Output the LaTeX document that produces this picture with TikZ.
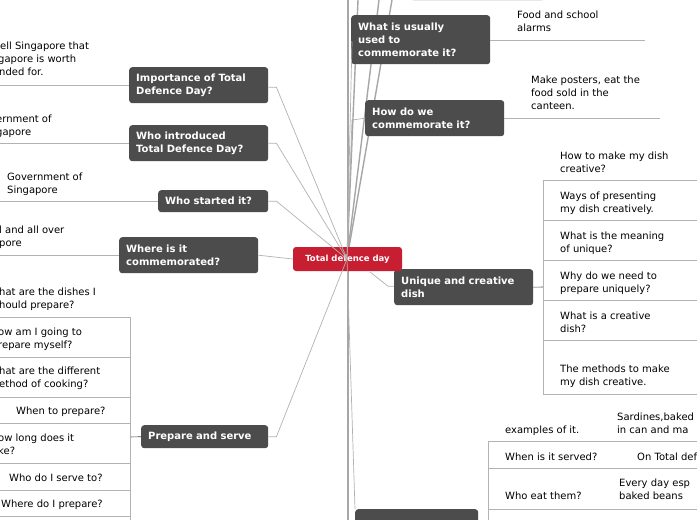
\documentclass[tikz,border=0pt]{standalone}
\usepackage{fontspec}
\setmainfont{DejaVu Sans}
\begin{document}
\begin{tikzpicture}[x=1pt,y=-1pt,
  topic/.style={fill=black!70,text=white,font=\bfseries\fontsize{10}{13}\selectfont,rounded corners=3pt,anchor=north west,inner xsep=7pt,inner ysep=0pt,align=left},
  leaf/.style={font=\fontsize{10}{13}\selectfont,anchor=north west,inner sep=0pt,align=left},
  conn/.style={draw=black!30,line width=0.7pt},
  thick conn/.style={draw=black!35,line width=1.4pt},
  uline/.style={draw=black!30,line width=0.6pt}]
\useasboundingbox (0,0) rectangle (697,520);
\clip (0,0) rectangle (697,520);
\fill[white] (0,0) rectangle (697,520);
\coordinate (c) at (347,259);
% main spine lines
\draw[thick conn] (348,0) -- (348,520);
\draw[thick conn] (c) -- (358,0);
\draw[thick conn] (c) -- (379,0);
\draw[thick conn] (c) -- (392,0);
% top cut box
\fill[black!70,rounded corners=3pt] (410,-20) rectangle (545,0);
% left topics
\node[topic,minimum width=139pt,minimum height=36pt,text width=125pt] (imp) at (129,67) {Importance of Total\\Defence Day?};
\node[topic,minimum width=139pt,minimum height=36pt,text width=125pt] (intro) at (129,125) {Who introduced\\Total Defence Day?};
\node[topic,minimum width=110pt,minimum height=22pt,text width=96pt] (start) at (158,190) {Who started it?};
\node[topic,minimum width=139pt,minimum height=36pt,text width=125pt] (where) at (119,237) {Where is it\\commemorated?};
\node[topic,minimum width=127pt,minimum height=23pt,text width=113pt] (prep) at (141,425) {Prepare and serve};
% right topics
\node[topic,minimum width=139pt,minimum height=49pt,text width=125pt] (used) at (351,15) {What is usually\\used to\\commemorate it?};
\node[topic,minimum width=139pt,minimum height=36pt,text width=125pt] (how) at (365,100) {How do we\\commemorate it?};
\node[topic,minimum width=139pt,minimum height=36pt,text width=125pt] (uniq) at (394,269) {Unique and creative\\dish};
\node[topic,minimum width=123pt,minimum height=24pt,text width=109pt] (food) at (355,509) {};
% centre
\node[fill={rgb,255:red,200;green,30;blue,50},text=white,font=\bfseries\fontsize{8.5}{10}\selectfont,rounded corners=3pt,minimum width=109pt,minimum height=24pt,inner sep=0pt] (centre) at (347.5,259) {Total defence day};
% connectors centre -> topics
\draw[conn] (imp.east) ++(0,2) -- ++(8,0) -- (c);
\draw[conn] (intro.east) -- ++(8,0) -- (c);
\draw[conn] (start.east) -- ++(8,0) -- (c);
\draw[conn] (where.east) -- (centre.west);
\draw[conn] (prep.east) -- ++(8,0) -- (c);
\draw[conn] (used.west) ++(0,2) -- (352,42) -- (c);
\draw[conn] (how.west) -- (352,120) -- (c);
\draw[conn] (uniq.west) ++(0,-1) -- ++(-6,0) -- (370,272);
\draw[conn] (c) -- (food.north west);
% left leaves
\draw[uline] (0,85) -- (imp.west|-0,85);
\node[leaf] (l1) at (0,42) {ell Singapore that\\\hspace*{-2pt}gapore is worth\\\hspace*{-1pt}nded for.};
\draw[uline] (0,143) -- (intro.west|-0,143);
\node[leaf] (l2) at (-4,115) {ernment of\\gapore};
\draw[uline] (0,201) -- (start.west|-0,201);
\node[leaf] (l3) at (7,173) {Government of\\Singapore};
\draw[uline] (0,255) -- (where.west|-0,255);
\node[leaf] (l4) at (-1,226) {l and all over\\pore};
% prepare leaves
\draw[draw=black!70,line width=0.6pt] (prep.west) -- (130,437);
\draw[uline] (130,317) -- (130,520);
\foreach \yy in {317,357,397,423,463,490,516} \draw[uline] (0,\yy) -- (130,\yy);
\node[leaf] at (-1,288) {hat are the dishes I\\hould prepare?};
\node[leaf] at (-2,328) {ow am I going to\\repare myself?};
\node[leaf] at (-1,367) {hat are the different\\ethod of cooking?};
\node[leaf] at (16,407) {When to prepare?};
\node[leaf] at (-2,434) {ow long does it\\ke?};
\node[leaf] at (9,474) {Who do I serve to?};
\node[leaf] at (1,500) {Where do I prepare?};
% right leaves
\draw[uline] (used.east|-0,40) -- (645,40);
\node[leaf] at (517,11) {Food and school\\alarms};
\draw[uline] (how.east|-0,118) -- (660,118);
\node[leaf] at (531,76) {Make posters, eat the\\food sold in the\\canteen.};
% unique leaves
\draw[draw=black!70,line width=0.6pt] (uniq.east) -- (543,287);
\draw[uline] (543,180) -- (543,395);
\foreach \yy in {180,220,260,300,340,394} \draw[uline] (543,\yy) -- (697,\yy);
\node[leaf] at (560,152) {How to make my dish\\creative?};
\node[leaf] at (560,192) {Ways of presenting\\my dish creatively.};
\node[leaf] at (560,232) {What is the meaning\\of unique?};
\node[leaf] at (560,272) {Why do we need to\\prepare uniquely?};
\node[leaf] at (560,312) {What is a creative\\dish?};
\node[leaf] at (560,365) {The methods to make\\my dish creative.};
% food leaves
\draw[uline] (488,441) -- (488,520);
\foreach \yy in {441,468,509} \draw[uline] (488,\yy) -- (697,\yy);
\node[leaf] at (505,426) {examples of it.};
\node[leaf] at (617,413) {Sardines,baked\\in can and ma};
\node[leaf] at (505,453) {When is it served?};
\node[leaf] at (637,453) {On Total defence day};
\node[leaf] at (505,492) {Who eat them?};
\node[leaf] at (619,479) {Every day esp\\baked beans};
\end{tikzpicture}
\end{document}
